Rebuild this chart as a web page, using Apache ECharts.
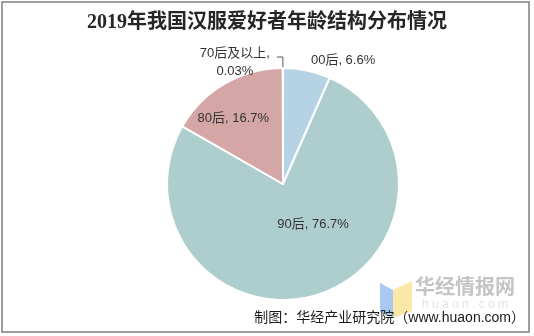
<!DOCTYPE html>
<html>
<head>
<meta charset="utf-8">
<script src="https://cdn.jsdelivr.net/npm/echarts@6/dist/echarts.min.js"></script>
<style>
html,body{margin:0;padding:0;background:#fff;}
#chart{width:534px;height:336px;}
</style>
</head>
<body>
<div id="chart"></div>
<script>
const titleText = '2019年我国汉服爱好者年龄结构分布情况';
const sourceText = '制图：华经产业研究院（www.huaon.com）';
const categories = ['00后', '90后', '80后', '70后及以上'];
const values = [6.6, 76.7, 16.7, 0.03];
const colors = ['#b6d3e5', '#aecece', '#d4a6a5', '#c9b8d8'];

const labelFont = "'Liberation Sans', Arial, 'Noto Sans CJK SC', sans-serif";

const labelStyles = [
  { position: 'outside', distanceToLabelLine: 2, labelLine: { show: false, length: 10, length2: 0 } },
  { position: 'inside', offset: [11, -18] },
  { position: 'inside', offset: [-19, -13] },
  { position: 'outside', distanceToLabelLine: 5, padding: [10, 0, 0, 0], labelLine: { show: true, length: 11, length2: 6 } }
];

const data = categories.map((name, i) => {
  const s = labelStyles[i];
  const item = {
    name: name,
    value: values[i],
    itemStyle: { color: colors[i] },
    label: {
      position: s.position,
      offset: s.offset,
      distanceToLabelLine: s.distanceToLabelLine,
      padding: s.padding
    }
  };
  if (s.labelLine) item.labelLine = s.labelLine;
  return item;
});

const chart = echarts.init(document.getElementById('chart'), null, { renderer: 'canvas' });
chart.setOption({
  backgroundColor: '#ffffff',
  animation: false,
  title: {
    text: titleText,
    left: 'center',
    top: 8,
    textStyle: {
      fontFamily: "'Liberation Serif', 'Times New Roman', 'Noto Sans CJK SC', serif",
      fontSize: 20,
      fontWeight: 'bold',
      color: '#262626'
    }
  },
  series: [{
    type: 'pie',
    center: [283, 184],
    radius: [0, 116],
    startAngle: 90,
    clockwise: true,
    avoidLabelOverlap: false,
    itemStyle: { borderColor: '#ffffff', borderWidth: 2 },
    label: {
      show: true,
      color: '#333333',
      fontSize: 13,
      fontFamily: labelFont,
      formatter: function (p) {
        if (p.dataIndex === 3) {
          return '{a|' + p.name + ',}\n{a|' + p.value + '%}';
        }
        return p.name + ', ' + p.value + '%';
      },
      rich: {
        a: { width: 74, align: 'center', fontSize: 13, lineHeight: 18, color: '#333333', fontFamily: labelFont }
      }
    },
    labelLine: {
      lineStyle: { color: '#595959', width: 1 }
    },
    emphasis: { disabled: true },
    data: data
  }],
  graphic: [
    {
      type: 'rect',
      shape: { x: 2, y: 2, width: 527, height: 330 },
      style: { fill: 'none', stroke: '#7f7f7f', lineWidth: 1.5 },
      silent: true
    },
    {
      type: 'polygon',
      shape: { points: [[380, 283], [393, 290], [393, 318], [380, 312]] },
      style: { fill: '#a9c8f2' },
      silent: true
    },
    {
      type: 'polygon',
      shape: { points: [[393, 290], [412, 281], [412, 311], [393, 318]] },
      style: { fill: '#fbe7a6' },
      silent: true
    },
    {
      type: 'text',
      style: {
        text: '华经情报网',
        x: 465, y: 286,
        align: 'center', verticalAlign: 'middle',
        font: "bold 20px 'Noto Sans CJK SC', sans-serif",
        fill: '#c4c4c4'
      },
      silent: true
    },
    {
      type: 'text',
      style: {
        text: 'h u a o n . c o m',
        x: 465, y: 305,
        align: 'center', verticalAlign: 'middle',
        font: "12px 'Liberation Sans', sans-serif",
        fill: '#e4e4e4'
      },
      silent: true
    },
    {
      type: 'text',
      style: {
        text: sourceText,
        x: 525, y: 318,
        align: 'right', verticalAlign: 'middle',
        font: "14px 'Liberation Sans', Arial, 'Noto Sans CJK SC', sans-serif",
        fill: '#1a1a1a'
      },
      silent: true
    }
  ]
});
</script>
</body>
</html>
